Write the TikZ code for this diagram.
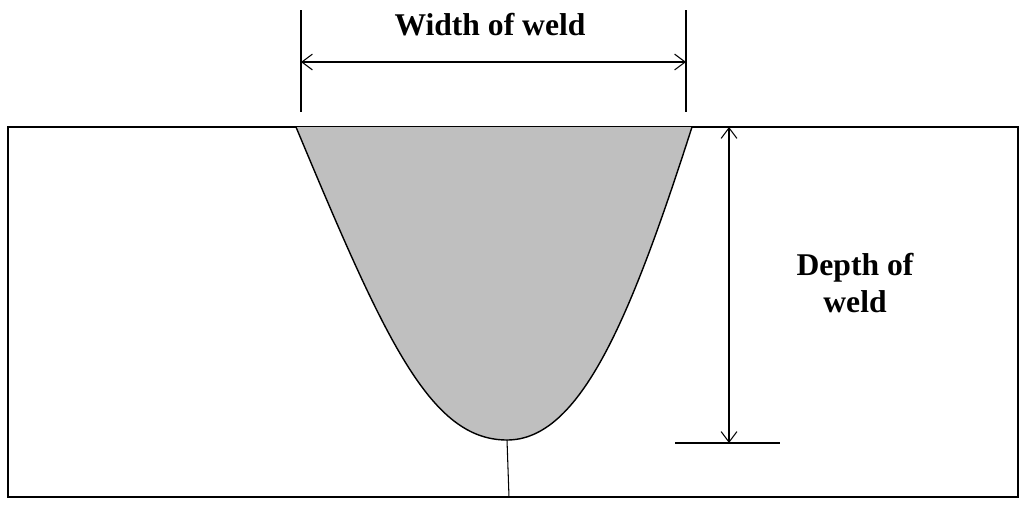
\documentclass[tikz,border=0pt]{standalone}
\usepackage{fontspec}
\setmainfont{Liberation Serif}
\usetikzlibrary{arrows.meta}
\begin{document}
\begin{tikzpicture}[x=0.02cm,y=-0.02cm,
  every node/.style = {font=\fontsize{18}{21}\selectfont\bfseries, align=center},
  dim/.style = {{Straight Barb[length=6pt,width=9pt]}-{Straight Barb[length=6pt,width=9pt]}, semithick}]
\useasboundingbox (0,0) rectangle (1027,508);
% plate and weld pool
\draw[thick] (8,127) rectangle (1018,497);
\draw[thick, fill=gray!50] (296,127) .. controls (385,340) and (430,440) .. (507,440)
  .. controls (580,440) and (630,320) .. (692,127);
\draw[semithick] (507,440) -- (509,497);
% width dimension
\coordinate (wl) at (301,62);
\coordinate (wr) at (686,62);
\draw[semithick] (301,10) -- (301,112);
\draw[semithick] (686,10) -- (686,112);
\draw[dim] (wl) -- (wr);
\node (width) at (490,25) {Width of weld};
% depth dimension
\coordinate (dt) at (729,127);
\coordinate (db) at (729,443);
\draw[semithick] (675,443) -- (780,443);
\draw[dim] (dt) -- (db);
\node (depth) at (855,283) {Depth of\\weld};
\end{tikzpicture}
\end{document}
